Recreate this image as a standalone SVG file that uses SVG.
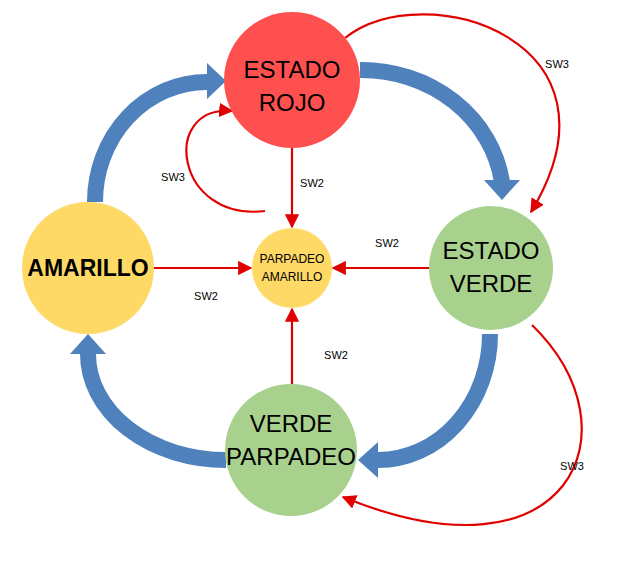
<svg xmlns="http://www.w3.org/2000/svg" width="620" height="563" viewBox="0 0 620 563">
<style>
.b{fill:none;stroke:#4f81bd;stroke-width:16}
.bh{fill:#4f81bd}
.r{fill:none;stroke:#e00000;stroke-width:2.2}
.t{font-family:"Liberation Sans",Arial,sans-serif;text-anchor:middle;fill:#000}
.l{font-family:"Liberation Sans",Arial,sans-serif;font-size:11px;fill:#000;text-anchor:middle}
</style>
<defs>
<marker id="ah" viewBox="0 0 10 10" refX="9" refY="5" markerWidth="6.5" markerHeight="6.5" orient="auto" markerUnits="strokeWidth">
<path d="M0,0 L10,5 L0,10 z" fill="#e00000"/>
</marker>
</defs>
<rect width="620" height="563" fill="#fff"/>
<g id="connectors">
<path class="b" d="M360,70 A142,130 0 0 1 502,182"/>
<polygon class="bh" points="484,180 520,180 502,200"/>
<path class="b" d="M95,202 A112,120 0 0 1 207,82"/>
<polygon class="bh" points="207,63 207,99 226,81"/>
<path class="b" d="M490,334 A112,126 0 0 1 378,460"/>
<polygon class="bh" points="378,442 378,478 358,460"/>
<path class="b" d="M226,460 A138,106 0 0 1 88,354"/>
<polygon class="bh" points="70,354 106,354 88,334"/>
<path class="r" marker-end="url(#ah)" d="M292,148 L292,227"/>
<path class="r" marker-end="url(#ah)" d="M154,268 L251,268"/>
<path class="r" marker-end="url(#ah)" d="M429,268 L333,268"/>
<path class="r" marker-end="url(#ah)" d="M292,384 L292,309"/>
<path class="r" marker-end="url(#ah)" d="M265,211 C175,222 160,105 232,111"/>
<path class="r" marker-end="url(#ah)" d="M345,38 C425,-25 635,40 531,212"/>
<path class="r" marker-end="url(#ah)" d="M532,325 C640,430 570,590 343,497"/>
<text class="l" x="312" y="187">SW2</text>
<text class="l" x="173" y="181">SW3</text>
<text class="l" x="557" y="68">SW3</text>
<text class="l" x="387" y="247">SW2</text>
<text class="l" x="206" y="300">SW2</text>
<text class="l" x="336" y="359">SW2</text>
<text class="l" x="572" y="470">SW3</text>
</g>
<g id="rojo">
<circle cx="292" cy="80" r="68" fill="#ff5050"/>
<text class="t" x="292" y="78" font-size="24">ESTADO</text>
<text class="t" x="292" y="111" font-size="24">ROJO</text>
</g>
<g id="verde">
<circle cx="491" cy="268" r="62" fill="#a9d18e"/>
<text class="t" x="491" y="259" font-size="24">ESTADO</text>
<text class="t" x="491" y="292" font-size="24">VERDE</text>
</g>
<g id="amarillo">
<circle cx="88" cy="268" r="66" fill="#ffd966"/>
<text class="t" x="88" y="276" font-size="23" font-weight="bold">AMARILLO</text>
</g>
<g id="verde-parpadeo">
<circle cx="291" cy="450" r="66" fill="#a9d18e"/>
<text class="t" x="291" y="432" font-size="24">VERDE</text>
<text class="t" x="291" y="465" font-size="24">PARPADEO</text>
</g>
<g id="parpadeo-amarillo">
<circle cx="292" cy="268" r="40" fill="#ffd966"/>
<text class="t" x="292" y="263" font-size="12">PARPADEO</text>
<text class="t" x="292" y="281" font-size="12">AMARILLO</text>
</g>
</svg>
